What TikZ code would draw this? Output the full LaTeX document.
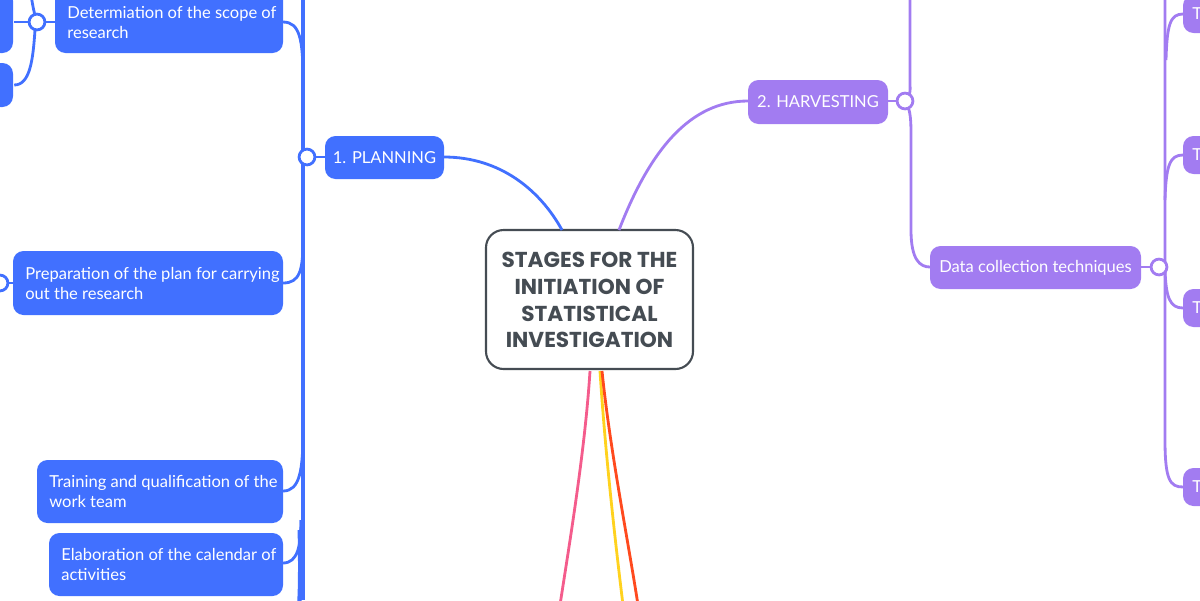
\documentclass[tikz,border=0pt]{standalone}
\usepackage{fontspec}
\setmainfont{Lato}
\newfontfamily\titlefont{Poppins}
\definecolor{cblue}{HTML}{4170FF}
\definecolor{cpurp}{HTML}{A27CF1}
\definecolor{cpink}{HTML}{F45C8C}
\definecolor{cyel}{HTML}{FFD21E}
\definecolor{cred}{HTML}{FF4A1E}
\definecolor{cgray}{HTML}{454C53}
\tikzset{
 bbox/.style={fill=cblue,rounded corners=6pt},
 pbox/.style={fill=cpurp,rounded corners=6pt},
 txt/.style={text=white,align=left,inner sep=0pt,font=\fontsize{9.4}{11.4}\selectfont},
 bl/.style={draw=cblue,line width=1.6pt},
 pl/.style={draw=cpurp,line width=1.6pt},
 bdot/.style={circle,draw=cblue,fill=white,line width=1.6pt,minimum size=9pt,inner sep=0pt},
 pdot/.style={circle,draw=cpurp,fill=white,line width=1.6pt,minimum size=9pt,inner sep=0pt},
}
\begin{document}
\begin{tikzpicture}[x=0.02cm,y=-0.02cm]
\useasboundingbox (0,0) rectangle (1200,600);
\clip (0,0) rectangle (1200,600);
% ---------- bottom colored lines
\coordinate (bp) at (560,605);
\coordinate (by) at (623,605);
\coordinate (br) at (638,605);
% center
\path[draw=cgray,line width=1.2pt,rounded corners=10pt,fill=white] (486,230) rectangle (693,369);
\node[text=cgray,align=center,inner sep=0pt,font=\titlefont\bfseries\fontsize{12.3}{15.3}\selectfont] (ct) at (589.5,300) {STAGES FOR THE\\INITIATION OF\\STATISTICAL\\INVESTIGATION};
\coordinate (cb1) at (590,371);
\coordinate (cb2) at (600,371);
\coordinate (cb3) at (602,371);
\coordinate (ctl) at (562,230);
\coordinate (ctr) at (619,230);
\draw[draw=cpink,line width=1.6pt] (cb1) .. controls (585,450) and (570,540) .. (bp);
\draw[draw=cyel,line width=1.6pt] (cb2) .. controls (605,450) and (615,540) .. (by);
\draw[draw=cred,line width=1.6pt] (cb3) .. controls (610,450) and (628,540) .. (br);
% ---------- planning
\path[bbox] (325,136) rectangle (444,179);
\node[txt] (plan) at (384.5,157.5) {1. PLANNING};
\draw[bl] (444,157) .. controls (500,157) and (540,190) .. (ctl);
\draw[bl] (325,157) -- (307,157);
% spine
\draw[bl,line width=1.9pt] (303,-5) -- (303,600);
\draw[bl] (299,530) .. controls (300,580) and (299,600) .. (298,610);
\draw[bl] (301,520) -- (300,610);
% nodes
\path[bbox] (55,-12) rectangle (283,53);
\node[txt,anchor=west] (det) at (67,22) {Determiation of the scope of\\research};
\path[bbox] (13,251) rectangle (283,315);
\node[txt,anchor=west] (prep) at (25,283) {Preparation of the plan for carrying\\out the research};
\path[bbox] (37,460) rectangle (283,523);
\node[txt,anchor=west] (train) at (49,491) {Training and qualification of the\\work team};
\path[bbox] (49,533) rectangle (283,596);
\node[txt,anchor=west] (elab) at (61,564) {Elaboration of the calendar of\\activities};
\path[bbox] (-10,-10) rectangle (13,53);
\node[inner sep=0pt] (l1) at (13,22) {};
\path[bbox] (-10,63) rectangle (13,107);
\node[inner sep=0pt] (l2) at (13,85) {};
\draw[bl] (283,22) .. controls (300,22) and (303,40) .. (303,80);
\draw[bl] (283,283) .. controls (300,283) and (303,270) .. (303,240);
\draw[bl] (283,491) .. controls (300,491) and (303,470) .. (303,430);
\draw[bl] (283,563) .. controls (298,563) and (301,545) .. (301,520);
\draw[bl] (55,22) -- (37,22);
\draw[bl] (l1) -- (37,22);
\draw[bl] (l2) .. controls (30,85) and (33,60) .. (35,30);
\draw[bl] (37,22) .. controls (33,10) and (32,0) .. (31,-5);
\node[bdot] (d1) at (37,22) {};
\node[bdot] (d0) at (0,283) {};
\draw[bl] (13,283) -- (d0);
\node[bdot] (dp) at (307,157) {};
% ---------- harvesting
\path[pbox] (748,80) rectangle (888,124);
\node[txt] (harv) at (818,102) {2. HARVESTING};
\draw[pl] (ctr) .. controls (650,150) and (690,101) .. (748,101);
\draw[pl] (888,101) -- (905,101);
\draw[pl] (910,-5) -- (910,85) .. controls (911,95) and (907,100) .. (905,101);
\draw[pl] (905,101) .. controls (911,110) and (911,120) .. (911,140) -- (911,230) .. controls (911,260) and (920,267) .. (930,267);
\node[pdot] (dh) at (905,101) {};
\path[pbox] (930,246) rectangle (1141,289);
\node[txt] (data) at (1035.5,267.5) {Data collection techniques};
\draw[pl] (1141,267) -- (1159,267);
\draw[pl] (1165,-5) -- (1165,440) .. controls (1165,480) and (1170,487) .. (1183,487);
\draw[pl] (1183,14) .. controls (1170,14) and (1167,25) .. (1166,60);
\draw[pl] (1183,155) .. controls (1170,155) and (1166,165) .. (1165,200);
\draw[pl] (1183,308) .. controls (1170,308) and (1166,298) .. (1165,270);
\node[pdot] (dd) at (1159,267) {};
\foreach \yy/\nm in {14/r1,155/r2,308/r3,487/r4}{
  \path[pbox] (1183,\yy-19) rectangle (1220,\yy+19);
  \node[txt,anchor=west] (\nm) at (1192,\yy) {T};
}
\end{tikzpicture}
\end{document}
